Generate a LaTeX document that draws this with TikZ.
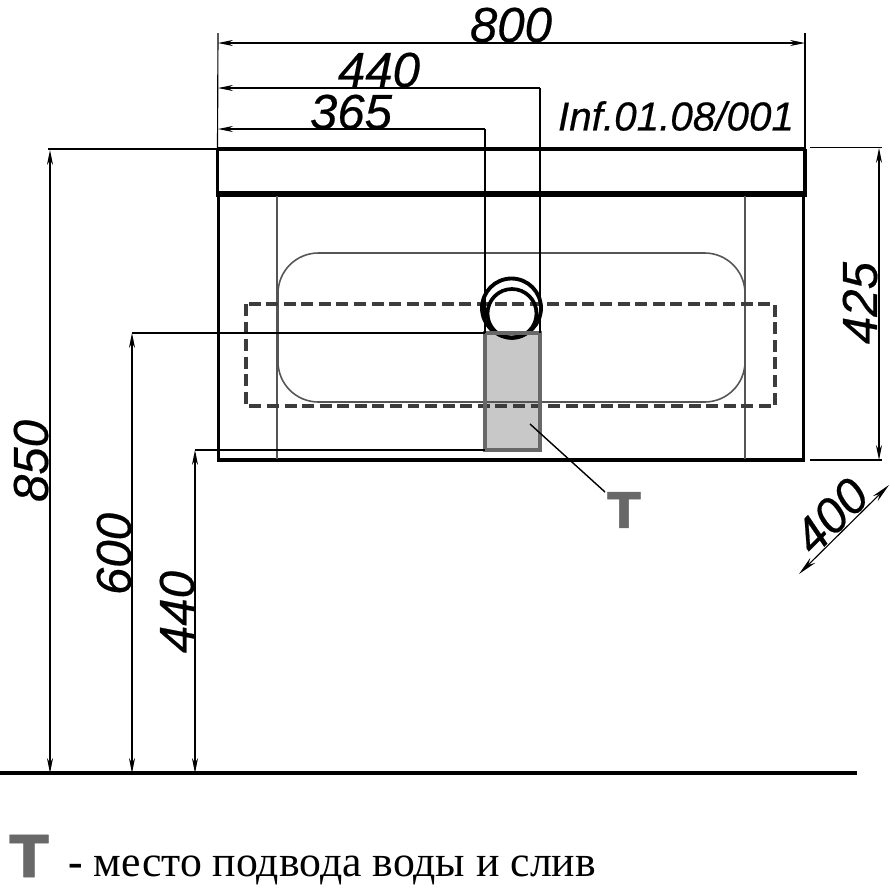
\documentclass[tikz,border=0pt]{standalone}
\usepackage{fontspec}
\setmainfont{Liberation Serif}
\setsansfont{Liberation Sans}
\newfontfamily\dimfont[ItalicFeatures={FakeBold=0.4}]{Liberation Sans}
\newfontfamily\markfont[BoldFeatures={FakeBold=0.8}]{DejaVu Sans}
\usetikzlibrary{arrows.meta}
\definecolor{markgray}{RGB}{104,104,104}
\definecolor{boxgray}{RGB}{200,200,200}
\definecolor{linegray}{RGB}{85,85,85}
\definecolor{dashgray}{RGB}{60,60,60}
\tikzset{
	dimline/.style={line width=0.65pt,{Stealth[length=8.5pt,width=3.4pt]}-{Stealth[length=8.5pt,width=3.4pt]}},
	leftdim/.style={line width=0.65pt,-{Stealth[length=8.5pt,width=3.4pt]}},
	extline/.style={line width=0.65pt},
	dimtext/.style={font=\dimfont\itshape\fontsize{28}{28}\selectfont,inner sep=0pt},
	outline/.style={line width=1.9pt},
	innerline/.style={line width=0.9pt,color=linegray},
	markT/.style={font=\markfont\bfseries\fontsize{28}{28}\selectfont,text=markgray,inner sep=0pt}
}

\begin{document}
\begin{tikzpicture}[x=0.02cm,y=-0.02cm]
		\useasboundingbox (0,0) rectangle (890,890);
		% reference points
		\coordinate (topL) at (217.5,149);
		\coordinate (topR) at (805,149);
		\coordinate (botR) at (803.5,460);
		\coordinate (floor850) at (50,773);
		\coordinate (floor600) at (132,773);
		\coordinate (floor440) at (195,773);
		\coordinate (h850) at (50,150);
		\coordinate (h600) at (132,333);
		\coordinate (h440) at (195,450);
		\coordinate (boxTL) at (485,333);
		\coordinate (boxTR) at (540,333);
		\coordinate (boxBL) at (485,450);
		\coordinate (floorL) at (0,773);
		\coordinate (floorR) at (857,773);

		% grey box
		\fill[boxgray] (boxTL) rectangle (540,450);

		% cabinet
		\draw[outline] (218.5,193) -- (218.5,460) -- (botR) -- (803.5,193);
		\draw[line width=2pt] (topL) -- (topR);
		\draw[line width=2.1pt] (topL) -- (217.5,194);
		\draw[line width=2.1pt] (topR) -- (805,194);
		\draw[line width=2.9pt] (216,194) -- (806.5,194);
		\draw[innerline] (277,196) -- (277,459);
		\draw[innerline] (745,196) -- (745,459);
		\draw[innerline,rounded corners=23pt] (278,253) rectangle (745,402);
		\draw[line width=2pt,color=dashgray,dash pattern=on 6.8pt off 3.2pt] (246,304) rectangle (775,406);

		% drain
		\draw[line width=2.2pt] (511.5,308) circle (0.59cm);
		\draw[line width=2.1pt] (512,313.5) circle (0.49cm);
		\draw[draw=markgray,line width=2pt] (boxTL) rectangle (540,450);

		% dimensions on top
		\coordinate (a800L) at (218,43);
		\coordinate (a800R) at (805,43);
		\coordinate (a440L) at (218,88);
		\coordinate (a440R) at (540,88);
		\coordinate (a365L) at (218,129);
		\coordinate (a365R) at (485,129);
		\draw[extline] (218,33) -- (topL);
		\draw[extline] (805,33) -- (topR);
		\draw[extline] (a440R) -- (boxTR);
		\draw[extline] (a365R) -- (boxTL);
		\draw[dimline] (a800L) -- (a800R);
		\draw[leftdim] (a440R) -- (a440L);
		\draw[leftdim] (a365R) -- (a365L);
		\node[dimtext] (t800) at (511,25) {800};
		\node[dimtext] (t440top) at (379,70) {440};
		\node[dimtext] (t365) at (351,112) {365};
		\node[font=\dimfont\itshape\fontsize{23}{23}\selectfont,inner sep=0pt] (code) at (676,116) {Inf.01.08/001};

		% dimensions on the left
		\draw[extline] (48,149) -- (topL);
		\draw[extline] (h600) -- (boxTL);
		\draw[extline] (h440) -- (boxBL);
		\draw[dimline] (h850) -- (floor850);
		\draw[dimline] (h600) -- (floor600);
		\draw[dimline] (h440) -- (floor440);
		\node[dimtext,rotate=90] (t850) at (31,461) {850};
		\node[dimtext,rotate=90] (t600) at (114,554) {600};
		\node[dimtext,rotate=90] (t440) at (177,612) {440};

		% dimensions on the right
		\coordinate (r425T) at (879,148);
		\coordinate (r425B) at (879,460);
		\draw[extline] (810,147.5) -- (882,147.5);
		\draw[extline] (810,460) -- (882,460);
		\draw[dimline] (r425T) -- (r425B);
		\node[dimtext,rotate=90] (t425) at (860,303) {425};
		\coordinate (depthA) at (799,574);
		\coordinate (depthB) at (889,485);
		\draw[line width=0.65pt,{Stealth[length=11pt,width=4pt]}-{Stealth[length=11pt,width=4pt]}] (depthA) -- (depthB);
		\node[dimtext,rotate=45] (t400) at (831,516) {400};

		% floor
		\draw[line width=2.7pt] (floorL) -- (floorR);

		% T mark and legend
		\coordinate (leaderS) at (530,424);
		\node[markT] (markA) at (624,510) {T};
		\draw[line width=0.8pt] (leaderS) -- (605,492);
		\node[markT,font=\markfont\bfseries\fontsize{33}{33}\selectfont] (markB) at (29,856) {T};
		\node[anchor=base west,inner sep=0pt,font=\fontsize{24.9}{24.9}\selectfont] (legend) at (68,876) {{\bfseries -} место подвода воды и слив};
\end{tikzpicture}
\end{document}
